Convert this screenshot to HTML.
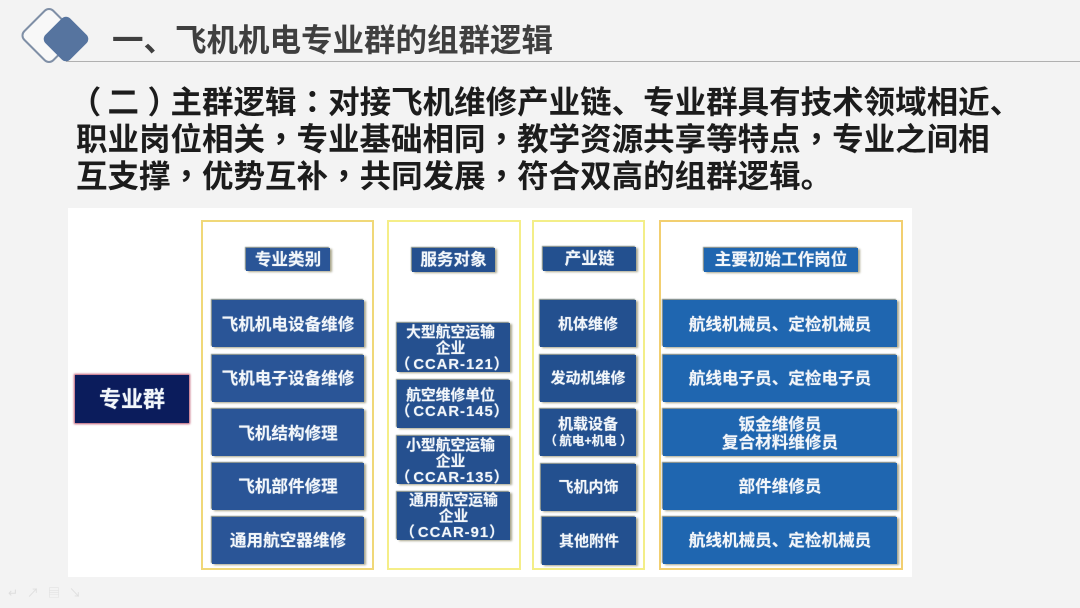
<!DOCTYPE html>
<html><head><meta charset="utf-8">
<style>
html,body{margin:0;padding:0}
body{width:1080px;height:608px;overflow:hidden;position:relative;background:#f3f3f3;font-family:"Liberation Sans","Noto Sans CJK SC",sans-serif}
div{position:absolute;box-sizing:border-box}
.p,.l,.r{font-family:"Liberation Sans","Noto Sans CJK TC",sans-serif}
.l{position:relative;left:-.2em}
.r{position:relative;left:.27em}
.t{white-space:nowrap;font-weight:700;color:#1c1c1c;font-size:31.5px;line-height:37px;left:76px}
.col{background:#fff;border:2px solid #f0d878}
.b{color:#f2f6fa;font-weight:700;text-align:center;display:flex;align-items:center;justify-content:center;box-shadow:2px 1px 2px #a9a68c,-1px -1px 1px #6b7a78;font-size:16.6px;line-height:18px;background:#2a5597;white-space:nowrap;text-shadow:0 0 1px #9fb4d0;padding-top:2px}
.h{padding-top:0}
.s{background:#25508f;font-size:14.8px;line-height:16px;align-items:flex-start;padding-top:2px;display:block}
.s i{font-style:normal;position:relative;left:-3px}
.s b{letter-spacing:1px}
.s .r{left:0}
.c3{background:#23508f;font-size:15px}
.c4{background:#1f66b0;font-size:16.6px}
</style></head><body>
<div style="left:66px;top:61px;width:1014px;height:1px;background:#b0b0b0"></div>
<svg style="position:absolute;left:0;top:0" width="110" height="70">
<rect x="28.5" y="15" width="41" height="41" rx="6" transform="rotate(45 49 35.5)" fill="#f8f8f8" stroke="#7f8fa6" stroke-width="2"/>
<rect x="48.5" y="21.5" width="35" height="35" rx="6" transform="rotate(45 66 39)" fill="#56749f"/>
</svg>
<div style="left:112px;top:21px;font-size:31.5px;line-height:38px;font-weight:700;color:#3f3f3f;white-space:nowrap">一、飞机机电专业群的组群逻辑</div>
<div class="t" style="top:84px"><span class="l">（</span>二<span class="r">）</span>主群逻辑<span class="p">：</span>对接飞机维修产业链、专业群具有技术领域相近、</div>
<div class="t" style="top:121px">职业岗位相关<span class="p">，</span>专业基础相同<span class="p">，</span>教学资源共享等特点<span class="p">，</span>专业之间相</div>
<div class="t" style="top:158px">互支撑<span class="p">，</span>优势互补<span class="p">，</span>共同发展<span class="p">，</span>符合双高的组群逻辑。</div>

<div style="left:68px;top:208px;width:844px;height:369px;background:#fff"></div>
<div class="b" style="left:75px;top:375px;width:114px;height:48px;background:#0b1c5c;font-size:22px;box-shadow:0 0 2px 1px #b8506a">专业群</div>

<div class="col" style="left:201px;top:220px;width:173px;height:350px"></div>
<div class="col" style="left:387px;top:220px;width:134px;height:350px;border-color:#f5ee88"></div>
<div class="col" style="left:532px;top:220px;width:113px;height:350px;border-color:#f3ee88"></div>
<div class="col" style="left:659px;top:220px;width:244px;height:350px;border-color:#f2cf70"></div>

<div class="b h" style="left:246px;top:248px;width:84px;height:23px">专业类别</div>
<div class="b h" style="left:412px;top:248px;width:83px;height:24px;background:#25508f">服务对象</div>
<div class="b h" style="left:543px;top:247px;width:93px;height:24px;background:#23508f">产业链</div>
<div class="b h" style="left:704px;top:248px;width:154px;height:24px;background:#1f66b0">主要初始工作岗位</div>

<div class="b" style="left:212px;top:300px;width:152px;height:47px">飞机机电设备维修</div>
<div class="b h" style="left:212px;top:355px;width:152px;height:47px">飞机电子设备维修</div>
<div class="b" style="left:212px;top:409px;width:152px;height:47px">飞机结构修理</div>
<div class="b h" style="left:212px;top:463px;width:152px;height:47px">飞机部件修理</div>
<div class="b h" style="left:212px;top:517px;width:152px;height:47px">通用航空器维修</div>

<div class="b s" style="left:397px;top:323px;width:113px;height:49px"><i>大型航空运输</i><br><i>企业</i><br><span class="l">（</span><b>CCAR-121</b><span class="r">）</span></div>
<div class="b s" style="left:397px;top:380px;width:113px;height:48px;padding-top:8px"><i>航空维修单位</i><br><span class="l">（</span><b>CCAR-145</b><span class="r">）</span></div>
<div class="b s" style="left:397px;top:436px;width:113px;height:48px"><i>小型航空运输</i><br><i>企业</i><br><span class="l">（</span><b>CCAR-135</b><span class="r">）</span></div>
<div class="b s" style="left:397px;top:492px;width:113px;height:48px;padding-top:1px"><i style="left:0">通用航空运输</i><br><i style="left:0">企业</i><br><span class="l">（</span><b>CCAR-91</b><span class="r">）</span></div>

<div class="b c3" style="left:540px;top:300px;width:96px;height:47px">机体维修</div>
<div class="b c3 h" style="left:540px;top:355px;width:96px;height:47px">发动机维修</div>
<div class="b c3" style="left:540px;top:409px;width:96px;height:47px;line-height:16px;display:block;padding-top:8px">机载设备<br><span style="font-size:12.5px"><span class="l">（</span>航电+机电<span class="r">）</span></span></div>
<div class="b c3 h" style="left:541px;top:464px;width:95px;height:47px">飞机内饰</div>
<div class="b c3" style="left:542px;top:517px;width:94px;height:48px">其他附件</div>

<div class="b c4" style="left:663px;top:300px;width:234px;height:47px">航线机械员、定检机械员</div>
<div class="b c4 h" style="left:663px;top:355px;width:234px;height:47px">航线电子员、定检电子员</div>
<div class="b c4" style="left:663px;top:409px;width:234px;height:47px">钣金维修员<br>复合材料维修员</div>
<div class="b c4 h" style="left:663px;top:463px;width:234px;height:47px">部件维修员</div>
<div class="b c4 h" style="left:663px;top:517px;width:234px;height:47px">航线机械员、定检机械员</div>

<div style="left:8px;top:586px;color:#dedede;font-size:12px;line-height:14px;white-space:nowrap;letter-spacing:9px">↵↗▤↘</div>
</body></html>
